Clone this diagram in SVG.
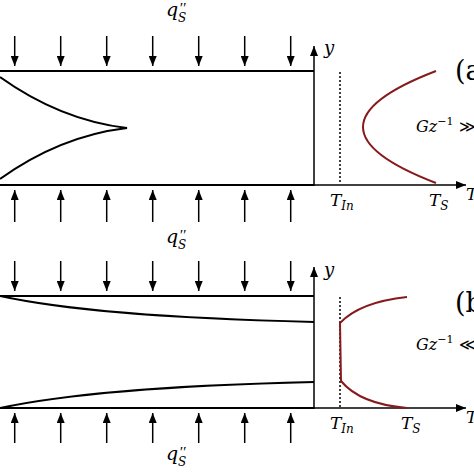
<svg xmlns="http://www.w3.org/2000/svg" width="474" height="474" viewBox="0 0 474 474">
<defs>
<marker id="ah" markerUnits="userSpaceOnUse" markerWidth="10" markerHeight="8" refX="10" refY="4" orient="auto">
<path d="M0,0 L10,4 L0,8 z" fill="#000"/>
</marker>
<style>
.ln{stroke:#000;stroke-width:2;fill:none}
.ar{stroke:#000;stroke-width:1.5;fill:none;marker-end:url(#ah)}
.cv{stroke:#000;stroke-width:2;fill:none}
.rd{stroke:#861a1c;stroke-width:2;fill:none}
.dt{stroke:#000;stroke-width:1.5;stroke-dasharray:2,2;fill:none}
.m{font-family:"DejaVu Serif","Liberation Serif",serif;font-style:italic;fill:#000}
.pr{font-family:"Liberation Serif","DejaVu Serif",serif;font-style:italic;font-size:15px;fill:#000}
.lab{font-family:"DejaVu Serif","Liberation Serif",serif;fill:#000}
</style>
</defs>
<rect width="474" height="474" fill="#fff"/>

<g id="panel-a">
<g id="a-channel">
<line class="ln" x1="0" y1="71" x2="314" y2="71"/>
<line class="ln" x1="0" y1="185" x2="314" y2="185"/>
<path class="cv" d="M0,77 Q60,120 127,128 Q60,136 0,179"/>
</g>
<g id="a-axes">
<line class="ar" x1="314" y1="186" x2="314" y2="46"/>
<line class="ar" x1="313" y1="185" x2="466" y2="185"/>
<line class="dt" x1="340" y1="72" x2="340" y2="184"/>
<path class="rd" d="M436,71 Q290,127 436,183"/>
</g>
<g id="a-flux">
<line class="ar" x1="14.7" y1="36" x2="14.7" y2="66"/>
<line class="ar" x1="60.7" y1="36" x2="60.7" y2="66"/>
<line class="ar" x1="106.7" y1="36" x2="106.7" y2="66"/>
<line class="ar" x1="152.7" y1="36" x2="152.7" y2="66"/>
<line class="ar" x1="198.7" y1="36" x2="198.7" y2="66"/>
<line class="ar" x1="244.7" y1="36" x2="244.7" y2="66"/>
<line class="ar" x1="290.7" y1="36" x2="290.7" y2="66"/>
<line class="ar" x1="14.7" y1="222" x2="14.7" y2="190"/>
<line class="ar" x1="60.7" y1="222" x2="60.7" y2="190"/>
<line class="ar" x1="106.7" y1="222" x2="106.7" y2="190"/>
<line class="ar" x1="152.7" y1="222" x2="152.7" y2="190"/>
<line class="ar" x1="198.7" y1="222" x2="198.7" y2="190"/>
<line class="ar" x1="244.7" y1="222" x2="244.7" y2="190"/>
<line class="ar" x1="290.7" y1="222" x2="290.7" y2="190"/>
</g>
<g id="a-labels">
<text class="m" x="166" y="16" font-size="19">q</text>
<text class="pr" x="179" y="13">′′</text>
<text class="m" x="178" y="22" font-size="12">S</text>
<text class="m" x="324" y="54" font-size="18">y</text>
<text class="m" x="330" y="206" font-size="17">T<tspan font-size="12" dy="4">In</tspan></text>
<text class="m" x="429" y="206" font-size="17">T<tspan font-size="12" dy="4">S</tspan></text>
<text class="m" x="466" y="200" font-size="17">T</text>
<text class="lab" x="455" y="80" font-size="27">(a)</text>
<text class="m" x="416" y="132" font-size="16">Gz<tspan font-size="11" dy="-7" font-style="normal">−1</tspan><tspan dy="7" font-style="normal"> ≫</tspan></text>
</g>
</g>

<g id="panel-b">
<g id="b-channel">
<line class="ln" x1="0" y1="296" x2="314" y2="296"/>
<line class="ln" x1="0" y1="408" x2="314" y2="408"/>
<path class="cv" d="M0,296 C60,309 150,318 314,322"/>
<path class="cv" d="M0,408 C60,395 150,386 314,382"/>
</g>
<g id="b-axes">
<line class="ar" x1="314" y1="409" x2="314" y2="267"/>
<line class="ar" x1="313" y1="408" x2="466" y2="408"/>
<line class="dt" x1="340" y1="297" x2="340" y2="407"/>
<path class="rd" d="M407,297 Q360,302 340,323 L341,381 Q360,404 407,408"/>
</g>
<g id="b-flux">
<line class="ar" x1="14.7" y1="261" x2="14.7" y2="291"/>
<line class="ar" x1="60.7" y1="261" x2="60.7" y2="291"/>
<line class="ar" x1="106.7" y1="261" x2="106.7" y2="291"/>
<line class="ar" x1="152.7" y1="261" x2="152.7" y2="291"/>
<line class="ar" x1="198.7" y1="261" x2="198.7" y2="291"/>
<line class="ar" x1="244.7" y1="261" x2="244.7" y2="291"/>
<line class="ar" x1="290.7" y1="261" x2="290.7" y2="291"/>
<line class="ar" x1="14.7" y1="443" x2="14.7" y2="413"/>
<line class="ar" x1="60.7" y1="443" x2="60.7" y2="413"/>
<line class="ar" x1="106.7" y1="443" x2="106.7" y2="413"/>
<line class="ar" x1="152.7" y1="443" x2="152.7" y2="413"/>
<line class="ar" x1="198.7" y1="443" x2="198.7" y2="413"/>
<line class="ar" x1="244.7" y1="443" x2="244.7" y2="413"/>
<line class="ar" x1="290.7" y1="443" x2="290.7" y2="413"/>
</g>
<g id="b-labels">
<text class="m" x="166" y="243" font-size="19">q</text>
<text class="pr" x="179" y="240">′′</text>
<text class="m" x="178" y="249" font-size="12">S</text>
<text class="m" x="166" y="460" font-size="19">q</text>
<text class="pr" x="179" y="457">′′</text>
<text class="m" x="178" y="466" font-size="12">S</text>
<text class="m" x="324" y="276" font-size="18">y</text>
<text class="m" x="330" y="429" font-size="17">T<tspan font-size="12" dy="4">In</tspan></text>
<text class="m" x="401" y="429" font-size="17">T<tspan font-size="12" dy="4">S</tspan></text>
<text class="m" x="466" y="423" font-size="17">T</text>
<text class="lab" x="455" y="312" font-size="27">(b)</text>
<text class="m" x="416" y="350" font-size="16">Gz<tspan font-size="11" dy="-7" font-style="normal">−1</tspan><tspan dy="7" font-style="normal"> ≪</tspan></text>
</g>
</g>
</svg>
